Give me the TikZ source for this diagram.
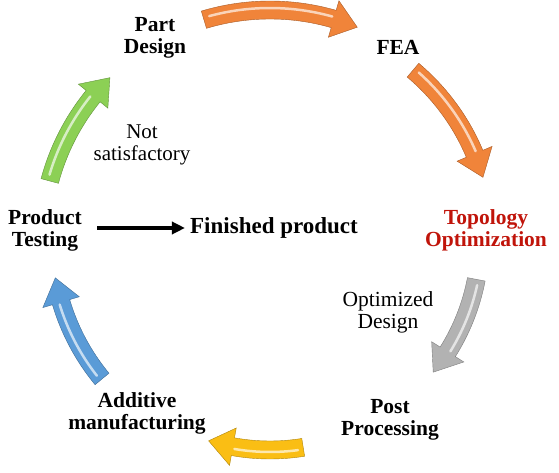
\documentclass[tikz,border=0pt]{standalone}
\usepackage{fontspec}
\setmainfont{Liberation Serif}
\usetikzlibrary{arrows.meta,calc}

\definecolor{arrOrange}{RGB}{240,132,58}
\definecolor{arrGray}{RGB}{178,178,178}
\definecolor{arrYellow}{RGB}{250,190,20}
\definecolor{arrBlue}{RGB}{90,155,215}
\definecolor{arrGreen}{RGB}{140,208,85}
\definecolor{topoRed}{RGB}{192,20,10}

\tikzset{
  stage/.style={font=\fontsize{21.5}{22}\selectfont\bfseries, align=center, inner sep=2pt},
  remark/.style={font=\fontsize{21.5}{22}\selectfont, align=center, inner sep=2pt},
}

\begin{document}
\begin{tikzpicture}[x=1pt,y=1pt]
    \useasboundingbox (0,0) rectangle (559,473);
    \coordinate (c) at (270,233);
    %% cycle arrows: tail angle / tip angle / radius / colour
    \foreach \a/\b/\r/\col in {106.7/67.7/230/arrOrange, 49.9/16.4/222/arrOrange,
        -10.8/-39/210/arrGray, -80.9/-107/210/arrYellow,
        -140.4/-170/218/arrBlue, 165/134.6/228/arrGreen}{
        \pgfmathsetmacro\m{\b+25/\r*57.3}
        \pgfmathsetmacro\ro{\r+9}
        \pgfmathsetmacro\ri{\r-9}
        \pgfmathsetmacro\ho{\r+19}
        \pgfmathsetmacro\hi{\r-19}
        \pgfmathsetmacro\rs{\r+2}
        \pgfmathsetmacro\sa{\a-1.5}
        \pgfmathsetmacro\se{\m+0.5}
        \filldraw[fill=\col, draw=\col!70!black, line width=0.4pt]
            ($(c)+(\a:\ro)$) arc[start angle=\a, end angle=\m, radius=\ro]
            -- ($(c)+(\m:\ho)$) -- ($(c)+(\b:\r)$) -- ($(c)+(\m:\hi)$)
            -- ($(c)+(\m:\ri)$) arc[start angle=\m, end angle=\a, radius=\ri] -- cycle;
        \draw[\col!35!white, line width=2.5pt, line cap=round]
            ($(c)+(\sa:\rs)$) arc[start angle=\sa, end angle=\se, radius=\rs];
    }
    % stages
    \node[stage] (design) at (155,435) {Part\\Design};
    \node[stage] (fea) at (398,426) {FEA};
    \node[stage, text=topoRed] (topo) at (486,243) {Topology\\Optimization};
    \node[remark] (optdes) at (388,161) {Optimized\\Design};
    \node[stage] (post) at (390,53) {Post\\Processing};
    \node[stage] (am) at (137,60) {Additive\\manufacturing};
    \node[stage] (test) at (45,243) {Product\\Testing};
    \node[stage, font=\fontsize{23}{23}\selectfont\bfseries] (fin) at (274,245) {Finished product};
    \node[remark, font=\fontsize{21}{22}\selectfont] (notok) at (142,328) {Not\\satisfactory};
    \draw[-{Triangle[length=13pt,width=12pt]}, line width=3.5pt, shorten <=13pt, shorten >=3pt]
        (test.east |- fin) -- (fin);
\end{tikzpicture}
\end{document}
